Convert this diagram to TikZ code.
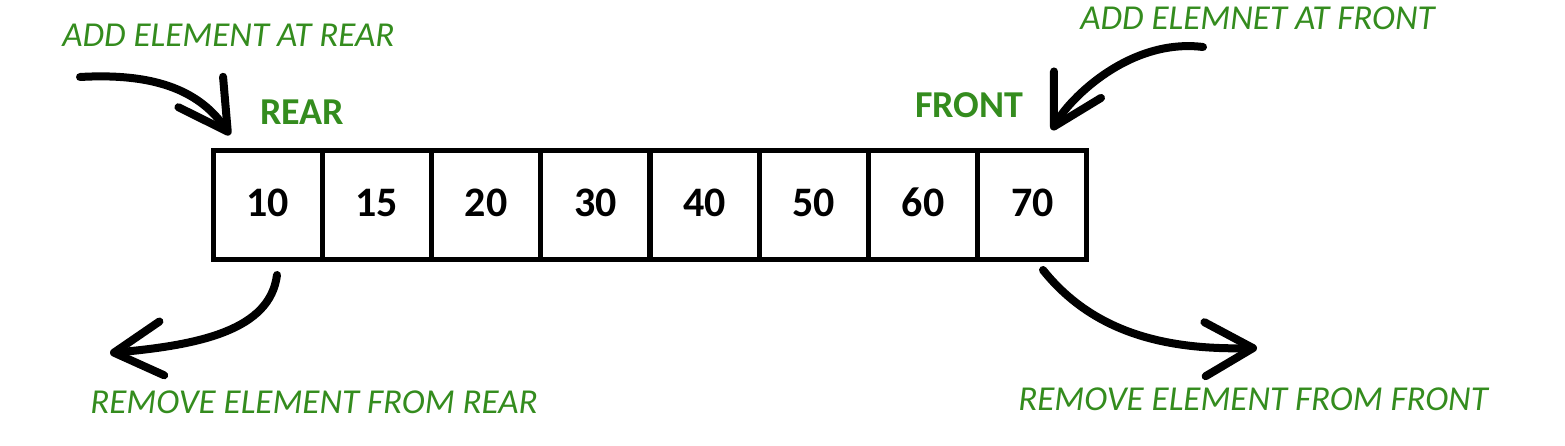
\documentclass[tikz,border=0pt]{standalone}
\usepackage{fontspec}
\setmainfont{Carlito}
\usetikzlibrary{arrows.meta}
\definecolor{qgreen}{RGB}{52,140,30}
\tikzset{
  cell/.style={draw, line width=2.5pt, minimum width=54.6pt, minimum height=54.5pt,
    inner sep=0, font=\bfseries\fontsize{21}{21}\selectfont},
  tag/.style={text=qgreen, font=\bfseries\fontsize{19}{19}\selectfont, anchor=base west, inner sep=0},
  note/.style={text=qgreen, font=\itshape\fontsize{17.5}{17.5}\selectfont, anchor=base west, inner sep=0},
  bent/.style={line width=4pt, line cap=round,
    -{Straight Barb[length=24pt,width=27pt,line cap=round,line join=round]}},
}

\begin{document}
\begin{tikzpicture}[x=0.5pt, y=-0.5pt]
    \useasboundingbox (0,0) rectangle (1565,445);

    % coordinates to be reused
    \coordinate (AR) at (80,77);
    \coordinate (ARt) at (230,135);
    \coordinate (AF) at (1203,47);
    \coordinate (AFt) at (1052,130);
    \coordinate (RR) at (277,275);
    \coordinate (RRt) at (110,353);
    \coordinate (RF) at (1043,270);
    \coordinate (RFt) at (1257,348);

    % draw queue
    \foreach \v [count=\i] in {10,15,20,30,40,50,60,70}
      \node [cell] (c\i) at ({213+109.25*(\i-0.5)},204.5) {\raisebox{2pt}{\v}};

    % add labels
    \node [tag] (rear) at (260,124) {REAR};
    \node [tag] (front) at (915,117) {FRONT};
    \node [note] (addrear) at (62,46) {ADD ELEMENT AT REAR};
    \node [note] (addfront) at (1080,29) {ADD ELEMNET AT FRONT};
    \node [note] (remrear) at (90,413) {REMOVE ELEMENT FROM REAR};
    \node [note] (remfront) at (1018,410) {REMOVE ELEMENT FROM FRONT};

    % arrows
    \draw [bent] (AR) .. controls (150,73) and (198,88) .. (ARt);
    \draw [bent] (AF) .. controls (1130,38) and (1070,98) .. (AFt);
    \draw [bent] (RR) .. controls (270,330) and (200,345) .. (RRt);
    \draw [bent] (RF) .. controls (1095,335) and (1170,350) .. (RFt);
\end{tikzpicture}
\end{document}
